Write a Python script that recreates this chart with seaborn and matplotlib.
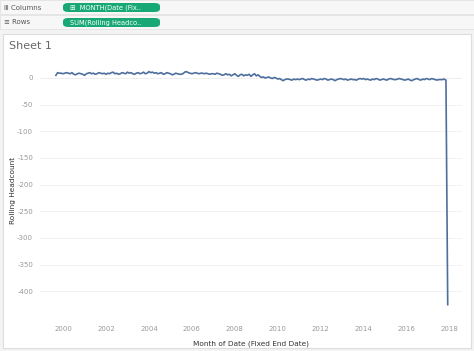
import pandas as pd
import matplotlib.pyplot as plt
import matplotlib.dates as mdates
from matplotlib.patches import Rectangle, FancyBboxPatch
import seaborn as sns

# monthly rolling headcount, Sep 1999 .. Dec 2017
start_month = "1999-09-01"
headcount = [
    5, 10, 9, 9,
    8, 9, 10, 9, 8, 10, 7, 6, 8, 9, 8, 7,
    5, 8, 9, 10, 8, 9, 7, 8, 10, 9, 8, 9,
    7, 9, 8, 10, 11, 8, 9, 7, 8, 10, 9, 8,
    11, 9, 10, 8, 7, 9, 10, 8, 9, 11, 8, 9,
    12, 10, 11, 9, 10, 8, 9, 10, 7, 8, 10, 9,
    8, 6, 7, 9, 8, 7, 7, 8, 11, 12, 10, 9,
    8, 9, 10, 9, 8, 9, 9, 8, 9, 8, 7, 8,
    8, 7, 9, 8, 7, 5, 6, 8, 6, 7, 4, 6,
    8, 5, 3, 6, 7, 4, 6, 5, 7, 3, 6, 8,
    4, 6, 3, 1, 2, 0, 1, 2, 0, -1, 1, 0,
    -2, -1, -3, -5, -3, -2, -2, -3, -4, -2, -3, -2,
    -3, -2, -1, -3, -4, -2, -3, -1, -2, -3, -4, -3,
    -2, -3, -1, -2, -4, -3, -2, -3, -5, -3, -2, -1,
    -2, -3, -2, -4, -3, -2, -3, -3, -4, -2, -1, -2,
    -1, -3, -2, -3, -4, -2, -3, -1, -2, -4, -3, -2,
    -3, -4, -2, -1, -2, -3, -3, -2, -1, -2, -3, -4,
    -3, -2, -4, -5, -3, -2, -1, -3, -4, -2, -3, -1,
    -2, -3, -1, -2, -3, -4, -3, -3, -3, -2, -4, -425,
]
y_ticks = [0, -50, -100, -150, -200, -250, -300, -350, -400]
x_years = list(range(2000, 2019, 2))

df = pd.DataFrame({
    "month": pd.date_range(start_month, periods=len(headcount), freq="MS"),
    "value": headcount,
})

plt.rcParams["axes.unicode_minus"] = False

W, H = 474, 351
fig = plt.figure(figsize=(W / 100, H / 100), dpi=100)
fig.patch.set_facecolor("#f3f3f3")

# shelves
for y0, label, pill in [(0, "Columns", "\u229e  MONTH(Date (Fix.."), (15, "Rows", "SUM(Rolling Headco..")]:
    fig.patches.append(Rectangle((0, 1 - (y0 + 14) / H), 1, 14 / H, transform=fig.transFigure,
                                 facecolor="#f7f7f7", edgecolor="#e2e2e2", lw=0.6, zorder=-5))
    fig.text(4 / W, 1 - (y0 + 7.5) / H, ("\u2162 " if label == "Columns" else "\u2261 ") + label,
             fontsize=5, color="#555555", va="center")
    fig.patches.append(FancyBboxPatch((63 / W, 1 - (y0 + 12) / H), 97 / W, 9 / H,
                                      boxstyle="round,pad=0,rounding_size=0.012",
                                      transform=fig.transFigure, facecolor="#18a875",
                                      edgecolor="none", mutation_aspect=0.74, zorder=-4))
    fig.text(70 / W, 1 - (y0 + 7.5) / H, pill, fontsize=4.8, color="white", va="center")

# sheet panel
fig.patches.append(Rectangle((3 / W, 3 / H), 468 / W, 1 - 37 / H, transform=fig.transFigure,
                             facecolor="white", edgecolor="#dddddd", lw=0.8, zorder=-5))
fig.text(9 / W, 1 - 46 / H, "Sheet 1", fontsize=8, color="#666666", va="center")

ax = fig.add_axes([40 / W, 33 / H, 422 / W, 256 / H])
sns.lineplot(data=df, x="month", y="value", ax=ax, color="#4e6f9e", lw=1.2)

ax.set_ylim(-450, 30)
ax.set_xlim(pd.Timestamp("1998-12-05"), pd.Timestamp("2018-08-01"))
ax.set_yticks(y_ticks)
ax.set_xticks([pd.Timestamp(f"{y}-01-01") for y in x_years])
ax.xaxis.set_major_formatter(mdates.DateFormatter("%Y"))
ax.tick_params(length=0, labelsize=5, labelcolor="#999999")
ax.tick_params(axis="y", pad=5)
ax.tick_params(axis="x", pad=6)
ax.grid(axis="y", color="#f0f0f0", lw=0.6)
ax.axhline(0, color="#e4e4e4", lw=0.7, zorder=0)
for s in ax.spines.values():
    s.set_visible(False)
ax.set_facecolor("white")
ax.set_xlabel("Month of Date (Fixed End Date)", fontsize=5.3, color="#333333", labelpad=6)
ax.set_ylabel("")
fig.text(13 / W, 1 - 190 / H, "Rolling Headcount", fontsize=5.3, color="#333333",
         rotation=90, ha="center", va="center")

fig.savefig("out.png", dpi=100)
